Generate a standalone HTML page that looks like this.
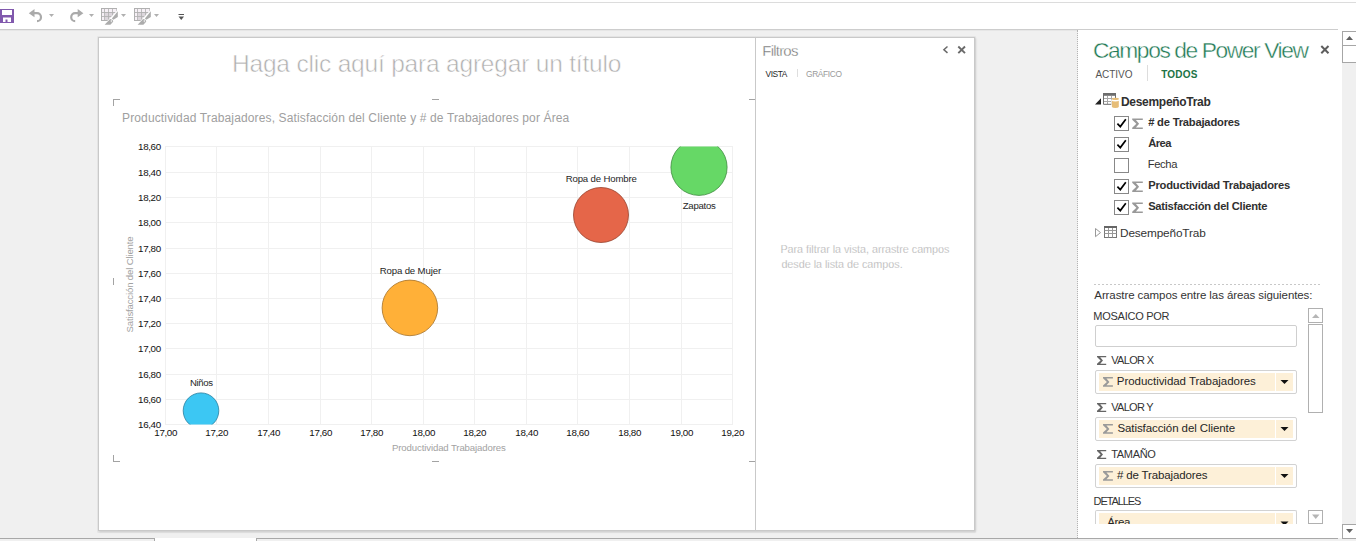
<!DOCTYPE html>
<html><head><meta charset="utf-8">
<style>
*{margin:0;padding:0;box-sizing:border-box}
html,body{width:1356px;height:541px;overflow:hidden;background:#f0f0f0;font-family:"Liberation Sans",sans-serif;position:relative}
.a{position:absolute}
.t{position:absolute;white-space:nowrap;line-height:1;font-family:"Liberation Sans",sans-serif}
svg{position:absolute;overflow:visible}
</style></head><body>
<!-- toolbar -->
<div class="a" style="left:0;top:0;width:1356px;height:29px;background:#fff"></div>
<div class="a" style="left:0;top:2px;width:1356px;height:1px;background:#dcdcdc"></div>
<div class="a" style="left:0;top:29px;width:1338px;height:1px;background:#cdcdcd"></div>
<div class="a" style="left:0;top:30px;width:1077px;height:1px;background:#e6e6e6"></div>
<div class="a" style="left:1338px;top:29px;width:18px;height:2px;background:#fff"></div>
<svg style="left:0;top:0" width="200" height="29">
  <!-- save -->
  <path d="M0 9 H14 V23 H0 Z" fill="#8159ad"/>
  <path d="M2 10 H12 V15 H2 Z" fill="#fff"/>
  <path d="M3 17.5 H11 V22 H3 Z" fill="#fff"/>
  <path d="M5.5 19.5 H7.5 V22 H5.5 Z" fill="#8159ad"/>
  <!-- undo -->
  <g fill="none" stroke="#aaaaaa" stroke-width="2.2">
    <path d="M31.5 13.2 H37 A4 4 0 0 1 37 21.2"/>
    <path d="M80.7 13.2 H75.2 A4 4 0 0 0 75.2 21.2"/>
  </g>
  <path d="M28.8 13.2 L34.5 9 V17.3 Z" fill="#aaaaaa"/>
  <path d="M83.4 13.2 L77.7 9 V17.3 Z" fill="#aaaaaa"/>
  <path d="M49 14 H54 L51.5 17 Z" fill="#b0b0b0"/>
  <path d="M89 14 H94 L91.5 17 Z" fill="#b0b0b0"/>
  <!-- table brush 1 -->
  <g>
    <rect x="101" y="8" width="16" height="13" fill="#b0b0b0"/>
    <g fill="#f6f0f6">
      <rect x="102" y="9" width="2.2" height="3"/><rect x="105" y="9" width="3.1" height="3"/><rect x="108.9" y="9" width="3.1" height="3"/><rect x="112.8" y="9" width="3.6" height="3"/>
      <rect x="102" y="12.9" width="2.2" height="3.3"/><rect x="102" y="17" width="2.2" height="3"/>
    </g>
    <g fill="#dcd6dc">
      <rect x="105" y="12.9" width="3.1" height="3.3"/><rect x="108.9" y="12.9" width="3.1" height="3.3"/><rect x="112.8" y="12.9" width="3.6" height="3.3"/>
      <rect x="105" y="17" width="3.1" height="3"/><rect x="108.9" y="17" width="3.1" height="3"/><rect x="112.8" y="17" width="3.6" height="3"/>
    </g>
    <path d="M118.5 9 L103.5 25 H119 V9 Z" fill="#fff"/>
    <path d="M117.8 11.3 V17 L113.4 19.8 L111.9 18.5 Z" fill="#acacac"/>
    <path d="M104.6 24.8 L110.1 18.9 Q113.7 19.7 113.1 21.7 L110.4 24.8 Z" fill="#acacac"/>
    <ellipse cx="111.4" cy="21" rx="0.8" ry="1.2" fill="#e0e0e0"/>
  </g>
  <g transform="translate(33,0)">
    <rect x="101" y="8" width="16" height="13" fill="#b0b0b0"/>
    <g fill="#f6f0f6">
      <rect x="102" y="9" width="2.2" height="3"/><rect x="105" y="9" width="3.1" height="3"/><rect x="108.9" y="9" width="3.1" height="3"/><rect x="112.8" y="9" width="3.6" height="3"/>
      <rect x="102" y="12.9" width="2.2" height="3.3"/><rect x="102" y="17" width="2.2" height="3"/>
    </g>
    <g fill="#dcd6dc">
      <rect x="105" y="12.9" width="3.1" height="3.3"/><rect x="108.9" y="12.9" width="3.1" height="3.3"/><rect x="112.8" y="12.9" width="3.6" height="3.3"/>
      <rect x="105" y="17" width="3.1" height="3"/><rect x="108.9" y="17" width="3.1" height="3"/><rect x="112.8" y="17" width="3.6" height="3"/>
    </g>
    <path d="M118.5 9 L103.5 25 H119 V9 Z" fill="#fff"/>
    <path d="M117.8 11.3 V17 L113.4 19.8 L111.9 18.5 Z" fill="#acacac"/>
    <path d="M104.6 24.8 L110.1 18.9 Q113.7 19.7 113.1 21.7 L110.4 24.8 Z" fill="#acacac"/>
    <ellipse cx="111.4" cy="21" rx="0.8" ry="1.2" fill="#e0e0e0"/>
  </g>
  <path d="M121 14 H126 L123.5 17 Z" fill="#b0b0b0"/>
  <path d="M154 14 H159 L156.5 17 Z" fill="#b0b0b0"/>
  <!-- customize -->
  <rect x="178.5" y="14" width="5.5" height="1" fill="#555"/>
  <path d="M178.5 16.5 H184 L181.25 20 Z" fill="#555"/>
</svg>

<!-- canvas -->
<div class="a" style="left:97px;top:36px;width:879px;height:497px;background:rgba(0,0,0,0.04);border-radius:1px"></div>
<div class="a" style="left:98px;top:37px;width:877px;height:494px;background:#fff;border:1px solid #c9c9c9;box-shadow:1px 1px 2px rgba(0,0,0,0.12)"></div>
<div class="a" style="left:755px;top:38px;width:1px;height:492px;background:#c9c9c9"></div>

<!-- chart frame handles -->
<svg style="left:0;top:0" width="760" height="470">
  <g stroke="#a3a3a3" stroke-width="1" fill="none" shape-rendering="crispEdges">
    <path d="M113.5 106 V99.5 H120"/>
    <path d="M432 99.5 H439"/>
    <path d="M749 99.5 H755"/>
    <path d="M113.5 278 V285"/>
    <path d="M113.5 455 V461.5 H120"/>
    <path d="M432 461.5 H439"/>
    <path d="M749 461.5 H755"/>
  </g>
</svg>

<!-- chart -->
<svg style="left:0;top:0" width="760" height="470">
  <defs><clipPath id="pc"><rect x="165" y="146.5" width="568" height="278"/></clipPath></defs>
  <g stroke="#f0f0f0" stroke-width="1" fill="none"><line x1="165.5" y1="146" x2="165.5" y2="425"/><line x1="216.5" y1="146" x2="216.5" y2="425"/><line x1="268.5" y1="146" x2="268.5" y2="425"/><line x1="320.5" y1="146" x2="320.5" y2="425"/><line x1="371.5" y1="146" x2="371.5" y2="425"/><line x1="423.5" y1="146" x2="423.5" y2="425"/><line x1="474.5" y1="146" x2="474.5" y2="425"/><line x1="526.5" y1="146" x2="526.5" y2="425"/><line x1="577.5" y1="146" x2="577.5" y2="425"/><line x1="629.5" y1="146" x2="629.5" y2="425"/><line x1="681.5" y1="146" x2="681.5" y2="425"/><line x1="732.5" y1="146" x2="732.5" y2="425"/><line x1="165" y1="146.5" x2="733" y2="146.5"/><line x1="165" y1="172.5" x2="733" y2="172.5"/><line x1="165" y1="197.5" x2="733" y2="197.5"/><line x1="165" y1="222.5" x2="733" y2="222.5"/><line x1="165" y1="248.5" x2="733" y2="248.5"/><line x1="165" y1="273.5" x2="733" y2="273.5"/><line x1="165" y1="298.5" x2="733" y2="298.5"/><line x1="165" y1="323.5" x2="733" y2="323.5"/><line x1="165" y1="348.5" x2="733" y2="348.5"/><line x1="165" y1="374.5" x2="733" y2="374.5"/><line x1="165" y1="399.5" x2="733" y2="399.5"/><line x1="165" y1="424.5" x2="733" y2="424.5"/></g>
  <g clip-path="url(#pc)" stroke-width="0.8">
    <circle cx="201" cy="410.7" r="17.8" fill="#34c5f2" fill-opacity="0.96" stroke="#2a7f9e"/>
    <circle cx="409.9" cy="307.9" r="27.8" fill="#ffad30" fill-opacity="0.96" stroke="#a47128"/>
    <circle cx="601" cy="215" r="27.5" fill="#e46042" fill-opacity="0.96" stroke="#95412d"/>
    <circle cx="699" cy="167.3" r="28.1" fill="#60d660" fill-opacity="0.96" stroke="#3f8c40"/>
  </g>
</svg>

<!-- filter icons -->
<svg style="left:0;top:0" width="980" height="60">
  <rect x="797" y="69" width="1" height="8" fill="#dedede"/>
  <path d="M947.5 46.5 L943.9 49.7 L947.5 52.9" fill="none" stroke="#6a6a6a" stroke-width="1.5"/>
  <path d="M958.3 46.5 L965 53.2 M965 46.5 L958.3 53.2" fill="none" stroke="#6a6a6a" stroke-width="1.9"/>
</svg>

<!-- right panel -->
<div class="a" style="left:1078px;top:30px;width:264px;height:508px;background:#fff"></div>
<div class="a" style="left:1077px;top:30px;width:1px;height:508px;border-left:1px dotted #b4b4b4"></div>
<div class="a" style="left:0;top:538px;width:1338px;height:1px;background:#b9b9b9"></div>

<!-- outer scrollbar -->
<div class="a" style="left:1342px;top:31px;width:14px;height:15px;background:#fff;border:1px solid #a6a6a6;border-right:0"></div>
<div class="a" style="left:1342px;top:45px;width:14px;height:2px;background:#a6a6a6"></div>
<div class="a" style="left:1342px;top:46px;width:14px;height:17px;background:#fff;border:1px solid #a6a6a6;border-right:0;border-top:0"></div>
<div class="a" style="left:1342px;top:524px;width:14px;height:15px;background:#fff;border:1px solid #a6a6a6;border-right:0"></div>
<svg style="left:0;top:0" width="1356" height="541">
  <path d="M1346 40 H1353 L1349.5 36 Z" fill="#606060"/>
  <path d="M1346 529 H1353 L1349.5 533 Z" fill="#606060"/>
  <!-- panel close -->
  <path d="M1321.3 46 L1328.5 53.2 M1328.5 46 L1321.3 53.2" fill="none" stroke="#5e5e5e" stroke-width="2"/>
  <!-- tab separator -->
  <rect x="1147" y="65" width="1" height="16" fill="#dddddd"/>
  <!-- tree -->
  <path d="M1101 98.3 V104.4 H1095 Z" fill="#222"/>
  <g>
    <rect x="1103" y="93" width="13" height="12" fill="#fff"/>
    <path d="M1107.5 96 V104 M1111.5 96 V104 M1103.5 98.5 H1115.5 M1103.5 101.5 H1115.5" stroke="#a8a8a8" stroke-width="1" fill="none"/>
    <path d="M1103.5 95 V104.3 H1112 M1115.5 95 V100" stroke="#6d6d6d" stroke-width="1" fill="none"/>
    <rect x="1103" y="93" width="13" height="2.8" fill="#6d6d6d"/>
    <path d="M1111.3 100.2 A3.85 1.3 0 0 1 1119.2 100.2 V107 A3.85 1.3 0 0 1 1111.3 107 Z" fill="#fff"/>
    <path d="M1111.9 100.8 A3.55 1 0 0 0 1118.8 100.8 V107 A3.55 1.2 0 0 1 1111.9 107 Z" fill="#e6bd78"/>
    <ellipse cx="1115.35" cy="98.9" rx="3.5" ry="1.1" fill="#e6bd78"/>
  </g>
  <path d="M1095.5 228.5 L1100.5 232.6 L1095.5 236.7 Z" fill="none" stroke="#999" stroke-width="1"/>
  <g>
    <rect x="1104.5" y="226.5" width="12" height="11" fill="#fff" stroke="#777" stroke-width="1"/>
    <rect x="1104" y="226" width="13" height="2" fill="#666"/>
    <path d="M1104.5 230.5 H1116.5 M1104.5 233.5 H1116.5 M1108.5 228 V237.5 M1112.5 228 V237.5" stroke="#999" stroke-width="1" fill="none"/>
  </g>
  <!-- checkboxes -->
  <g fill="#fff" stroke="#888" stroke-width="1" shape-rendering="crispEdges">
    <rect x="1114.5" y="116.5" width="14" height="14"/>
    <rect x="1114.5" y="137.5" width="14" height="14"/>
    <rect x="1114.5" y="158.5" width="14" height="14"/>
    <rect x="1114.5" y="179.5" width="14" height="14"/>
    <rect x="1114.5" y="200.5" width="14" height="14"/>
  </g>
  <g fill="none" stroke="#000" stroke-width="1.7">
    <path d="M1117.4 123.7 L1120.3 126.6 L1125.8 119.3"/>
    <path d="M1117.4 144.7 L1120.3 147.6 L1125.8 140.3"/>
    <path d="M1117.4 186.7 L1120.3 189.6 L1125.8 182.3"/>
    <path d="M1117.4 207.7 L1120.3 210.6 L1125.8 203.3"/>
  </g>
  <!-- sigmas in tree -->
  <g fill="#999">
    <path d="M0 0 H10 V1.4 H3.5 L6.5 5 L3.5 8.6 H10 V10 H0 V8.8 L3.9 5 L0 1.2 Z" transform="translate(1132.2,118.5) scale(1.06,1.04)"/>
    <path d="M0 0 H10 V1.4 H3.5 L6.5 5 L3.5 8.6 H10 V10 H0 V8.8 L3.9 5 L0 1.2 Z" transform="translate(1132.2,181.5) scale(1.06,1.04)"/>
    <path d="M0 0 H10 V1.4 H3.5 L6.5 5 L3.5 8.6 H10 V10 H0 V8.8 L3.9 5 L0 1.2 Z" transform="translate(1132.2,202.5) scale(1.06,1.04)"/>
  </g>
  <!-- dotted separator -->
  <path d="M1094 284.5 H1321" stroke="#c8c8c8" stroke-width="1" stroke-dasharray="2 2"/>
  <!-- area label sigmas -->
  <g fill="#666">
    <path d="M0 0 H10 V1.4 H3.5 L6.5 5 L3.5 8.6 H10 V10 H0 V8.8 L3.9 5 L0 1.2 Z" transform="translate(1097,356) scale(0.92,0.89)"/>
    <path d="M0 0 H10 V1.4 H3.5 L6.5 5 L3.5 8.6 H10 V10 H0 V8.8 L3.9 5 L0 1.2 Z" transform="translate(1097,403) scale(0.92,0.89)"/>
    <path d="M0 0 H10 V1.4 H3.5 L6.5 5 L3.5 8.6 H10 V10 H0 V8.8 L3.9 5 L0 1.2 Z" transform="translate(1097,450) scale(0.92,0.89)"/>
  </g>
</svg>

<!-- field boxes -->
<div class="a" style="left:1095px;top:325px;width:202px;height:22px;border:1px solid #cfcfcf;border-radius:2px;background:#fff"></div>
<div class="a" style="left:1095px;top:370px;width:202px;height:24px;border:1px solid #d2d2d2;border-radius:2px;background:#fff"></div>
<div class="a" style="left:1099px;top:373px;width:176px;height:18px;background:#fdf0d8"></div>
<div class="a" style="left:1276px;top:373px;width:17px;height:18px;background:#fdf0d8"></div>
<div class="a" style="left:1095px;top:417px;width:202px;height:24px;border:1px solid #d2d2d2;border-radius:2px;background:#fff"></div>
<div class="a" style="left:1099px;top:420px;width:176px;height:18px;background:#fdf0d8"></div>
<div class="a" style="left:1276px;top:420px;width:17px;height:18px;background:#fdf0d8"></div>
<div class="a" style="left:1095px;top:464px;width:202px;height:24px;border:1px solid #d2d2d2;border-radius:2px;background:#fff"></div>
<div class="a" style="left:1099px;top:467px;width:176px;height:18px;background:#fdf0d8"></div>
<div class="a" style="left:1276px;top:467px;width:17px;height:18px;background:#fdf0d8"></div>
<div class="a" style="left:1095px;top:510px;width:202px;height:14px;border:1px solid #d2d2d2;border-bottom:0;border-radius:2px 2px 0 0;background:#fff;overflow:hidden">
  <div class="a" style="left:3px;top:2px;width:176px;height:18px;background:#fdf0d8"></div>
  <div class="a" style="left:180px;top:2px;width:17px;height:18px;background:#fdf0d8"></div>
  <div class="t" style="left:11.3px;top:6.3px;font-size:11.5px;letter-spacing:-0.4px;color:#262626">Área</div>
  <svg style="left:0;top:0" width="202" height="14"><path d="M184.5 10.5 H192.5 L188.5 14.5 Z" fill="#111"/></svg>
</div>
<svg style="left:0;top:0" width="1356" height="541">
  <g fill="#111">
    <path d="M1280.5 380 H1288.5 L1284.5 384 Z"/>
    <path d="M1280.5 427 H1288.5 L1284.5 431 Z"/>
    <path d="M1280.5 474 H1288.5 L1284.5 478 Z"/>
  </g>
  <g fill="#9a9a9a">
    <path d="M0 0 H10 V1.4 H3.5 L6.5 5 L3.5 8.6 H10 V10 H0 V8.8 L3.9 5 L0 1.2 Z" transform="translate(1103,377.1) scale(0.99,0.96)"/>
    <path d="M0 0 H10 V1.4 H3.5 L6.5 5 L3.5 8.6 H10 V10 H0 V8.8 L3.9 5 L0 1.2 Z" transform="translate(1103,424.1) scale(0.99,0.96)"/>
    <path d="M0 0 H10 V1.4 H3.5 L6.5 5 L3.5 8.6 H10 V10 H0 V8.8 L3.9 5 L0 1.2 Z" transform="translate(1103,471.1) scale(0.99,0.96)"/>
  </g>
  <!-- inner scrollbar -->
  <g fill="#fff" stroke="#b0b0b0" stroke-width="1" shape-rendering="crispEdges">
    <rect x="1308.5" y="308.5" width="14" height="14"/>
    <rect x="1308.5" y="324.5" width="14" height="88"/>
    <rect x="1308.5" y="510.5" width="14" height="13"/>
  </g>
  <path d="M1312 318 H1319.5 L1315.75 314 Z" fill="#b5b5b5"/>
  <path d="M1312 514.5 H1319.5 L1315.75 519 Z" fill="#b5b5b5"/>
</svg>

<!-- bottom tabs -->
<div class="a" style="left:0;top:538px;width:155px;height:3px;background:#f0f0f0;border-top:1px solid #a8a8a8;border-right:1px solid #a8a8a8"></div>
<div class="a" style="left:155px;top:538px;width:101px;height:3px;background:#fff"></div>
<div class="a" style="left:256px;top:538px;width:1082px;height:3px;background:#f0f0f0;border-top:1px solid #a8a8a8;border-left:1px solid #a8a8a8"></div>

<div class="t" style="left:232.00px;top:51.56px;font-size:24.5px;letter-spacing:-0.194px;color:#b0b0b0;font-weight:normal;-webkit-text-stroke:0.55px #fff">Haga clic aquí para agregar un título</div>
<div class="t" style="left:122.00px;top:111.84px;font-size:12px;letter-spacing:0.138px;color:#a0a0a0;font-weight:normal;">Productividad Trabajadores, Satisfacción del Cliente y # de Trabajadores por Área</div>
<div class="t" style="left:392.00px;top:442.87px;font-size:9.6px;letter-spacing:-0.120px;color:#a2a2a2;font-weight:normal;">Productividad Trabajadores</div>
<div class="t" style="left:190.00px;top:377.87px;font-size:9.6px;letter-spacing:-0.375px;color:#262626;font-weight:normal;">Niños</div>
<div class="t" style="left:379.70px;top:265.87px;font-size:9.6px;letter-spacing:-0.125px;color:#262626;font-weight:normal;">Ropa de Mujer</div>
<div class="t" style="left:565.70px;top:173.87px;font-size:9.6px;letter-spacing:-0.138px;color:#262626;font-weight:normal;">Ropa de Hombre</div>
<div class="t" style="left:682.80px;top:200.87px;font-size:9.6px;letter-spacing:-0.283px;color:#262626;font-weight:normal;">Zapatos</div>
<div class="t" style="left:762.30px;top:43.30px;font-size:15px;letter-spacing:-0.783px;color:#6e6e6e;font-weight:normal;-webkit-text-stroke:0.35px #fff">Filtros</div>
<div class="t" style="left:765.60px;top:69.89px;font-size:8.4px;letter-spacing:-0.450px;color:#262626;font-weight:normal;">VISTA</div>
<div class="t" style="left:806.00px;top:69.89px;font-size:8.4px;letter-spacing:-0.350px;color:#9a9a9a;font-weight:normal;">GRÁFICO</div>
<div class="t" style="left:780.40px;top:243.86px;font-size:10.8px;letter-spacing:-0.038px;color:#a9a9a9;font-weight:normal;-webkit-text-stroke:0.25px #fff">Para filtrar la vista, arrastre campos</div>
<div class="t" style="left:781.40px;top:258.86px;font-size:10.8px;letter-spacing:-0.025px;color:#a9a9a9;font-weight:normal;-webkit-text-stroke:0.25px #fff">desde la lista de campos.</div>
<div class="t" style="left:1093.00px;top:39.30px;font-size:22.8px;letter-spacing:-1.421px;color:#1f7a55;font-weight:normal;-webkit-text-stroke:0.4px #fff">Campos de Power View</div>
<div class="t" style="left:1095.40px;top:70.33px;font-size:10px;letter-spacing:-0.040px;color:#555555;font-weight:normal;">ACTIVO</div>
<div class="t" style="left:1161.20px;top:70.33px;font-size:10px;letter-spacing:0.200px;color:#217346;font-weight:bold;">TODOS</div>
<div class="t" style="left:1121.00px;top:96.04px;font-size:12px;letter-spacing:-0.300px;color:#303030;font-weight:bold;">DesempeñoTrab</div>
<div class="t" style="left:1148.20px;top:116.52px;font-size:11.2px;letter-spacing:-0.206px;color:#303030;font-weight:bold;"># de Trabajadores</div>
<div class="t" style="left:1148.20px;top:137.52px;font-size:11.2px;letter-spacing:-0.500px;color:#303030;font-weight:bold;">Área</div>
<div class="t" style="left:1147.70px;top:158.52px;font-size:11.2px;letter-spacing:-0.325px;color:#333333;font-weight:normal;">Fecha</div>
<div class="t" style="left:1148.20px;top:179.52px;font-size:11.2px;letter-spacing:-0.216px;color:#303030;font-weight:bold;">Productividad Trabajadores</div>
<div class="t" style="left:1148.20px;top:200.52px;font-size:11.2px;letter-spacing:-0.278px;color:#303030;font-weight:bold;">Satisfacción del Cliente</div>
<div class="t" style="left:1120.00px;top:227.81px;font-size:11.8px;letter-spacing:-0.142px;color:#333333;font-weight:normal;">DesempeñoTrab</div>
<div class="t" style="left:1094.30px;top:290.26px;font-size:11.5px;letter-spacing:-0.086px;color:#333333;font-weight:normal;">Arrastre campos entre las áreas siguientes:</div>
<div class="t" style="left:1093.30px;top:310.69px;font-size:11px;letter-spacing:-0.260px;color:#333333;font-weight:normal;">MOSAICO POR</div>
<div class="t" style="left:1111.20px;top:355.19px;font-size:11px;letter-spacing:-0.667px;color:#333333;font-weight:normal;">VALOR X</div>
<div class="t" style="left:1116.80px;top:376.26px;font-size:11.5px;letter-spacing:-0.040px;color:#262626;font-weight:normal;">Productividad Trabajadores</div>
<div class="t" style="left:1111.20px;top:402.19px;font-size:11px;letter-spacing:-0.700px;color:#333333;font-weight:normal;">VALOR Y</div>
<div class="t" style="left:1117.40px;top:423.26px;font-size:11.5px;letter-spacing:-0.078px;color:#262626;font-weight:normal;">Satisfacción del Cliente</div>
<div class="t" style="left:1111.20px;top:448.69px;font-size:11px;letter-spacing:-0.300px;color:#333333;font-weight:normal;">TAMAÑO</div>
<div class="t" style="left:1116.90px;top:470.26px;font-size:11.5px;letter-spacing:-0.131px;color:#262626;font-weight:normal;"># de Trabajadores</div>
<div class="t" style="left:1093.60px;top:495.69px;font-size:11px;letter-spacing:-1.100px;color:#333333;font-weight:normal;">DETALLES</div>
<div class="t" style="left:138.10px;top:142.30px;font-size:9.8px;letter-spacing:-0.375px;color:#111;font-weight:normal;">18,60</div>
<div class="t" style="left:138.10px;top:168.30px;font-size:9.8px;letter-spacing:-0.375px;color:#111;font-weight:normal;">18,40</div>
<div class="t" style="left:138.10px;top:193.30px;font-size:9.8px;letter-spacing:-0.375px;color:#111;font-weight:normal;">18,20</div>
<div class="t" style="left:138.10px;top:218.30px;font-size:9.8px;letter-spacing:-0.375px;color:#111;font-weight:normal;">18,00</div>
<div class="t" style="left:138.10px;top:244.30px;font-size:9.8px;letter-spacing:-0.375px;color:#111;font-weight:normal;">17,80</div>
<div class="t" style="left:138.10px;top:269.30px;font-size:9.8px;letter-spacing:-0.375px;color:#111;font-weight:normal;">17,60</div>
<div class="t" style="left:138.10px;top:294.30px;font-size:9.8px;letter-spacing:-0.375px;color:#111;font-weight:normal;">17,40</div>
<div class="t" style="left:138.10px;top:319.30px;font-size:9.8px;letter-spacing:-0.375px;color:#111;font-weight:normal;">17,20</div>
<div class="t" style="left:138.10px;top:344.30px;font-size:9.8px;letter-spacing:-0.375px;color:#111;font-weight:normal;">17,00</div>
<div class="t" style="left:138.10px;top:370.30px;font-size:9.8px;letter-spacing:-0.375px;color:#111;font-weight:normal;">16,80</div>
<div class="t" style="left:138.10px;top:395.30px;font-size:9.8px;letter-spacing:-0.375px;color:#111;font-weight:normal;">16,60</div>
<div class="t" style="left:138.10px;top:420.30px;font-size:9.8px;letter-spacing:-0.375px;color:#111;font-weight:normal;">16,40</div>
<div class="t" style="left:154.35px;top:428.00px;font-size:9.8px;letter-spacing:-0.375px;color:#111;font-weight:normal;">17,00</div>
<div class="t" style="left:205.35px;top:428.00px;font-size:9.8px;letter-spacing:-0.375px;color:#111;font-weight:normal;">17,20</div>
<div class="t" style="left:257.35px;top:428.00px;font-size:9.8px;letter-spacing:-0.375px;color:#111;font-weight:normal;">17,40</div>
<div class="t" style="left:309.35px;top:428.00px;font-size:9.8px;letter-spacing:-0.375px;color:#111;font-weight:normal;">17,60</div>
<div class="t" style="left:360.35px;top:428.00px;font-size:9.8px;letter-spacing:-0.375px;color:#111;font-weight:normal;">17,80</div>
<div class="t" style="left:412.35px;top:428.00px;font-size:9.8px;letter-spacing:-0.375px;color:#111;font-weight:normal;">18,00</div>
<div class="t" style="left:463.35px;top:428.00px;font-size:9.8px;letter-spacing:-0.375px;color:#111;font-weight:normal;">18,20</div>
<div class="t" style="left:515.35px;top:428.00px;font-size:9.8px;letter-spacing:-0.375px;color:#111;font-weight:normal;">18,40</div>
<div class="t" style="left:566.35px;top:428.00px;font-size:9.8px;letter-spacing:-0.375px;color:#111;font-weight:normal;">18,60</div>
<div class="t" style="left:618.35px;top:428.00px;font-size:9.8px;letter-spacing:-0.375px;color:#111;font-weight:normal;">18,80</div>
<div class="t" style="left:670.35px;top:428.00px;font-size:9.8px;letter-spacing:-0.375px;color:#111;font-weight:normal;">19,00</div>
<div class="t" style="left:721.35px;top:428.00px;font-size:9.8px;letter-spacing:-0.375px;color:#111;font-weight:normal;">19,20</div>
<div class="t" style="left:0;top:0;font-size:9.6px;letter-spacing:-0.157px;color:#a2a2a2;transform-origin:0 0;transform:translate(125.07px,332.50px) rotate(-90deg)">Satisfacción del Cliente</div>
</body></html>
